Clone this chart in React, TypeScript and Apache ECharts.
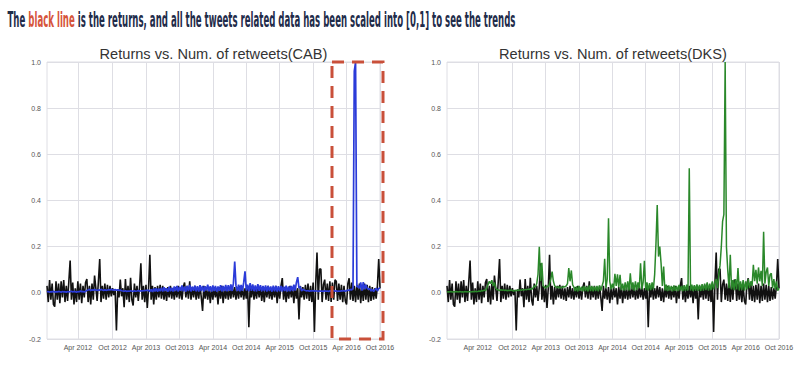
import React, { useEffect, useRef } from 'react';
import * as echarts from 'echarts';

// ---- data (weekly samples starting 2011-10-16) ----
const START_DATE = '2011-10-16';
const STEP_DAYS = 7;
const MONTHS = ['Jan', 'Feb', 'Mar', 'Apr', 'May', 'Jun', 'Jul', 'Aug', 'Sep', 'Oct', 'Nov', 'Dec'];
const TICK_MONTHS = [4, 10];

const returns = [
  0.03, -0.04, 0.055, -0.03, 0.04, -0.05, -0.06, 0.05, -0.03, 0.04,
  -0.045, 0.05, -0.02, 0.055, -0.04, 0.03, -0.035, 0.05, 0.14, -0.03,
  0.045, -0.05, 0.02, -0.04, 0.05, -0.03, 0.04, -0.045, 0.03, -0.02,
  0.045, 0.06, -0.04, 0.03, -0.05, 0.04, -0.03, 0.075, 0.02, -0.035,
  0.05, 0.146, -0.04, 0.03, -0.025, 0.04, -0.03, 0.035, -0.02, 0.03,
  -0.015, 0.02, -0.01, 0.01, -0.163, 0.015, -0.02, 0.057, -0.015, 0.02,
  -0.062, 0.06, -0.03, 0.03, -0.04, 0.065, -0.03, -0.055, 0.04, -0.02,
  0.03, -0.035, 0.025, 0.128, -0.03, 0.03, -0.04, 0.035, -0.066, 0.02,
  0.165, -0.03, 0.03, -0.05, 0.025, -0.03, 0.03, -0.02, 0.035, -0.025,
  0.03, -0.03, 0.02, -0.035, 0.025, -0.02, 0.03, -0.025, 0.02, -0.03,
  0.025, -0.02, 0.03, -0.025, 0.02, -0.03, 0.025, 0.045, -0.02, 0.03,
  -0.025, 0.05, -0.03, 0.025, -0.02, 0.03, -0.03, 0.02, -0.025, 0.03,
  -0.02, -0.078, 0.03, -0.025, 0.02, -0.03, 0.025, -0.045, 0.02, -0.03,
  0.025, -0.02, 0.02, -0.05, 0.025, -0.025, 0.03, -0.045, 0.02, -0.025,
  0.025, -0.03, 0.02, -0.025, 0.03, -0.02, 0.025, -0.03, 0.02, -0.025,
  0.03, -0.02, 0.025, -0.03, 0.02, -0.025, 0.03, -0.149, 0.025, -0.02,
  0.03, -0.03, 0.02, -0.025, 0.03, -0.02, 0.025, -0.035, 0.02, -0.04,
  0.025, -0.02, 0.03, -0.025, 0.02, -0.03, 0.025, -0.02, 0.03, -0.045,
  0.02, -0.025, 0.03, 0.064, -0.03, 0.025, -0.04, 0.02, -0.025, 0.03,
  -0.02, 0.025, -0.045, 0.03, -0.025, 0.02, -0.115, 0.03, -0.02, 0.025,
  -0.03, 0.035, -0.025, 0.04, -0.035, 0.03, -0.04, 0.045, -0.17, 0.04,
  0.175, -0.03, 0.103, 0.103, -0.04, 0.035, 0.057, -0.03, 0.04, -0.035,
  0.05, -0.04, 0.045, -0.03, 0.056, 0.05, -0.035, 0.04, -0.03, 0.035,
  -0.04, 0.03, -0.035, -0.05, 0.04, 0.063, -0.03, 0.045, -0.035, 0.03,
  -0.04, 0.035, -0.03, 0.04, -0.045, 0.03, -0.035, 0.04, -0.03, 0.035,
  -0.04, 0.03, -0.035, 0.025, -0.03, 0.02, -0.025, 0.03, 0.146, 0.02,
];

const cabRetweets = [
  0.004, 0.006, 0.003, 0.005, 0.004, 0.007, 0.003, 0.005, 0.004, 0.006,
  0.005, 0.003, 0.006, 0.004, 0.005, 0.003, 0.006, 0.004, 0.005, 0.007,
  0.004, 0.006, 0.005, 0.003, 0.006, 0.004, 0.008, 0.005, 0.006, 0.004,
  0.007, 0.01, 0.012, 0.015, 0.01, 0.013, 0.011, 0.014, 0.012, 0.01,
  0.013, 0.011, 0.015, 0.012, 0.01, 0.013, 0.011, 0.012, 0.014, 0.012,
  0.015, 0.013, 0.012, 0.014, 0.011, 0.013, 0.01, 0.012, 0.009, 0.008,
  0.007, 0.009, 0.006, 0.008, 0.007, 0.009, 0.008, 0.006, 0.009, 0.007,
  0.008, 0.01, 0.007, 0.009, 0.008, 0.01, 0.009, 0.011, 0.01, 0.012,
  0.005, 0.015, 0.004, 0.018, 0.006, 0.02, 0.005, 0.018, 0.007, 0.022,
  0.006, 0.024, 0.008, 0.02, 0.005, 0.026, 0.007, 0.022, 0.006, 0.028,
  0.008, 0.03, 0.006, 0.026, 0.009, 0.032, 0.007, 0.028, 0.005, 0.03,
  0.008, 0.034, 0.006, 0.027, 0.009, 0.031, 0.007, 0.029, 0.005, 0.033,
  0.008, 0.03, 0.006, 0.028, 0.01, 0.035, 0.007, 0.029, 0.006, 0.032,
  0.008, 0.03, 0.005, 0.028, 0.009, 0.033, 0.006, 0.03, 0.008, 0.034,
  0.007, 0.033, 0.009, 0.036, 0.008, 0.042, 0.136, 0.03, 0.008, 0.035,
  0.007, 0.034, 0.009, 0.045, 0.093, 0.01, 0.035, 0.007, 0.042, 0.009,
  0.036, 0.008, 0.032, 0.006, 0.038, 0.009, 0.033, 0.007, 0.03, 0.008,
  0.032, 0.006, 0.03, 0.008, 0.028, 0.005, 0.031, 0.007, 0.03, 0.006,
  0.029, 0.007, 0.03, 0.006, 0.028, 0.008, 0.031, 0.006, 0.028, 0.007,
  0.03, 0.008, 0.035, 0.01, 0.045, 0.068, 0.02, 0.028, 0.008, 0.015,
  0.012, 0.01, 0.008, 0.01, 0.007, 0.009, 0.008, 0.01, 0.007, 0.009,
  0.008, 0.006, 0.009, 0.007, 0.008, 0.006, 0.009, 0.007, 0.008, 0.006,
  0.009, 0.007, 0.008, 0.01, 0.007, 0.009, 0.006, 0.008, 0.007, 0.009,
  0.008, 0.01, 0.007, 0.009, 0.012, 0.01, 0.015, 0.012, 0.02, 0.96,
  1.0, 0.025, 0.03, 0.02, 0.045, 0.01, 0.046, 0.015, 0.035, 0.02,
  0.015, 0.018, 0.008, 0.015, 0.006, 0.013, 0.02, 0.008, 0.018, 0.022,
];

const dksRetweets = [
  0.003, 0.005, 0.004, 0.006, 0.003, 0.005, 0.004, 0.006, 0.005, 0.004,
  0.006, 0.004, 0.005, 0.003, 0.006, 0.005, 0.004, 0.006, 0.005, 0.004,
  0.006, 0.005, 0.007, 0.005, 0.006, 0.008, 0.006, 0.01, 0.008, 0.012,
  0.01, 0.02, 0.035, 0.05, 0.04, 0.055, 0.03, 0.045, 0.02, 0.015,
  0.012, 0.01, 0.014, 0.011, 0.013, 0.01, 0.012, 0.009, 0.011, 0.01,
  0.012, 0.01, 0.008, 0.011, 0.009, 0.012, 0.01, 0.013, 0.011, 0.014,
  0.012, 0.015, 0.013, 0.016, 0.014, 0.018, 0.015, 0.02, 0.03, 0.025,
  0.04, 0.08, 0.2, 0.05, 0.13, 0.03, 0.025, 0.02, 0.03, 0.025,
  0.04, 0.06, 0.092, 0.05, 0.03, 0.025, 0.022, 0.028, 0.02, 0.025,
  0.022, 0.028, 0.025, 0.03, 0.04, 0.107, 0.05, 0.097, 0.035, 0.025,
  0.008, 0.028, 0.006, 0.03, 0.009, 0.026, 0.007, 0.03, 0.008, 0.027,
  0.006, 0.032, 0.008, 0.03, 0.007, 0.028, 0.009, 0.03, 0.006, 0.032,
  0.01, 0.03, 0.05, 0.147, 0.02, 0.06, 0.323, 0.05, 0.015, 0.04,
  0.02, 0.082, 0.03, 0.08, 0.025, 0.078, 0.012, 0.04, 0.01, 0.045,
  0.012, 0.05, 0.01, 0.085, 0.015, 0.045, 0.01, 0.05, 0.012, 0.045,
  0.02, 0.128, 0.015, 0.045, 0.139, 0.012, 0.045, 0.01, 0.042, 0.012,
  0.045, 0.015, 0.08, 0.21, 0.38, 0.157, 0.2, 0.128, 0.03, 0.114,
  0.01, 0.035, 0.008, 0.032, 0.01, 0.03, 0.007, 0.032, 0.009, 0.03,
  0.008, 0.034, 0.01, 0.03, 0.007, 0.033, 0.009, 0.035, 0.01, 0.54,
  0.01, 0.035, 0.008, 0.033, 0.01, 0.036, 0.009, 0.034, 0.008, 0.038,
  0.01, 0.04, 0.012, 0.045, 0.01, 0.04, 0.012, 0.05, 0.015, 0.045,
  0.06, 0.02, 0.08, 0.12, 0.2, 0.31, 0.34, 1.0, 0.2, 0.1,
  0.02, 0.165, 0.015, 0.055, 0.012, 0.06, 0.015, 0.107, 0.01, 0.05,
  0.012, 0.055, 0.01, 0.05, 0.015, 0.06, 0.02, 0.05, 0.03, 0.121,
  0.05, 0.1, 0.04, 0.11, 0.05, 0.095, 0.03, 0.265, 0.04, 0.09,
  0.11, 0.03, 0.078, 0.085, 0.02, 0.06, 0.015, 0.05, 0.01, 0.02,
];

const Y_MIN = -0.2;
const Y_MAX = 1.0;
const Y_STEP = 0.2;

const TITLES = ['Returns vs. Num. of retweets(CAB)', 'Returns vs. Num. of retweets(DKS)'];
const CAPTION = ['The ', 'black line', ' is the returns, and all the tweets related data has been scaled into [0,1] to see the trends'];

// ---- styling ----
const W = 809;
const H = 377;
const GRID_COLOR = '#dedee4';
const LABEL_COLOR = '#555';
const NAVY = '#1f2c4a';
const RED = '#d6553b';
const BOX_RED = '#c9503a';
const CAPTION_FONT = '"Liberation Sans Narrow", "DejaVu Sans Condensed", "Liberation Sans", sans-serif';
const CAPTION_SIZE = 21;
const CAPTION_X = 7.5;
const CAPTION_W = 508;

const dates = returns.map((_, i) => {
  const t = Date.parse(START_DATE + 'T00:00:00Z') + i * STEP_DAYS * 86400000;
  return new Date(t).toISOString().slice(0, 10);
});

const isTick = (v: string) => {
  const m = +v.slice(5, 7);
  const d = +v.slice(8, 10);
  return TICK_MONTHS.includes(m) && d <= 7;
};
const fmtDate = (v: string) => MONTHS[+v.slice(5, 7) - 1] + ' ' + v.slice(0, 4);

export default function App() {
  const ref = useRef<HTMLDivElement>(null);
  useEffect(() => {
    document.body.style.margin = '0';
    document.body.style.background = '#fff';
    const chart = echarts.init(ref.current!, null, { renderer: 'svg' });

    const ctx = document.createElement('canvas').getContext('2d')!;
    ctx.font = `bold ${CAPTION_SIZE}px ${CAPTION_FONT}`;
    const widths = CAPTION.map((t) => ctx.measureText(t).width);
    const total = widths.reduce((a, b) => a + b, 0);
    const scale = CAPTION_W / total;
    let acc = 0;
    const captionChildren = CAPTION.map((t, i) => {
      const el = {
        type: 'text',
        x: acc,
        y: 0,
        style: {
          text: t,
          fill: i === 1 ? RED : NAVY,
          fontSize: CAPTION_SIZE,
          fontWeight: 'bold',
          fontFamily: CAPTION_FONT,
          align: 'left',
          verticalAlign: 'middle',
        },
      };
      acc += widths[i];
      return el;
    });

    const grids = [
      { left: 47, top: 62, width: 333, height: 277 },
      { left: 447, top: 62, width: 332, height: 277 },
    ];

    const xAxes = grids.map((_, gi) => ({
      type: 'category',
      gridIndex: gi,
      data: dates,
      boundaryGap: false,
      axisLine: { show: false },
      axisTick: { show: false },
      axisLabel: {
        interval: (_i: number, v: string) => isTick(v),
        formatter: (v: string) => fmtDate(v),
        fontSize: 7,
        color: LABEL_COLOR,
        margin: 5,
        fontFamily: 'Liberation Sans, Arial, sans-serif',
      },
      splitLine: {
        show: true,
        interval: (_i: number, v: string) => isTick(v),
        lineStyle: { color: GRID_COLOR, width: 1 },
      },
    }));

    const yAxes = grids.map((_, gi) => ({
      type: 'value',
      gridIndex: gi,
      min: Y_MIN,
      max: Y_MAX,
      interval: Y_STEP,
      axisLine: { show: false },
      axisTick: { show: false },
      axisLabel: {
        formatter: (v: number) => v.toFixed(1),
        fontSize: 7,
        color: LABEL_COLOR,
        margin: 6,
        fontFamily: 'Liberation Sans, Arial, sans-serif',
      },
      splitLine: { show: true, lineStyle: { color: GRID_COLOR, width: 1 } },
    }));

    const line = (gi: number, data: number[], color: string, width: number, z: number) => ({
      type: 'line',
      xAxisIndex: gi,
      yAxisIndex: gi,
      data,
      symbol: 'none',
      showSymbol: false,
      z,
      lineStyle: { color, width },
      itemStyle: { color },
      emphasis: { disabled: true },
    });

    chart.setOption({
      animation: false,
      backgroundColor: '#fff',
      grid: grids.map((g) => ({ ...g, show: true, borderColor: GRID_COLOR, borderWidth: 1, backgroundColor: '#fff' })),
      xAxis: xAxes,
      yAxis: yAxes,
      series: [
        line(0, returns, '#111', 1.6, 2),
        line(0, cabRetweets, '#2b3bd9', 1.7, 3),
        line(1, returns, '#111', 1.6, 2),
        line(1, dksRetweets, '#2a882a', 1.5, 3),
      ],
      graphic: [
        {
          type: 'group',
          x: CAPTION_X,
          y: 19.5,
          scaleX: scale,
          children: captionChildren,
        },
        ...TITLES.map((t, i) => ({
          type: 'text',
          x: i === 0 ? 213.5 : 613,
          y: 54,
          style: {
            text: t,
            fill: '#333',
            fontSize: 14.6,
            fontFamily: 'Liberation Sans, Arial, sans-serif',
            align: 'center',
            verticalAlign: 'middle',
          },
        })),
        {
          type: 'rect',
          shape: { x: 332, y: 62, width: 51, height: 277 },
          style: { fill: 'none', stroke: BOX_RED, lineWidth: 3, lineDash: [12, 8] },
          z: 100,
        },
      ],
    });
    return () => chart.dispose();
  }, []);
  return <div ref={ref} style={{ width: W, height: H }} />;
}
